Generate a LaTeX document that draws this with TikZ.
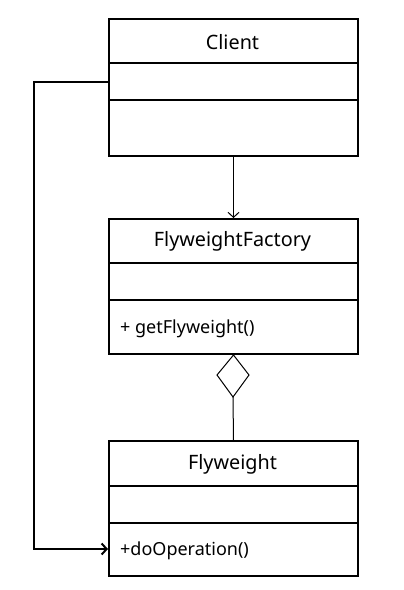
\documentclass[tikz,border=0pt]{standalone}
\usepackage{fontspec}
\setmainfont{Noto Sans}
\usetikzlibrary{arrows.meta}
\begin{document}
\begin{tikzpicture}[x=1pt,y=-1pt,
  cls/.style={draw, line width=2pt, minimum width=249pt, inner sep=0pt, anchor=north west},
  title/.style={font=\fontsize{19.8}{23}\selectfont, inner sep=0pt},
  member/.style={font=\fontsize{18}{21}\selectfont, inner sep=0pt, anchor=west},
  divider/.style={line width=2pt},
  conn/.style={line width=1pt},
  barb/.style={-{Straight Barb[length=5pt,width=11pt]}}
]
\useasboundingbox[fill=white] (0,0) rectangle (404,590);
% Client
\node[cls, minimum height=137pt] (client) at (108,18) {};
\node[title] (clientname) at (232.5,42) {Client};
\draw[divider] (108,63) -- (357,63);
\draw[divider] (108,100) -- (357,100);
% FlyweightFactory
\node[cls, minimum height=135pt] (factory) at (108,218) {};
\node[title] (factoryname) at (232.5,241.5) {FlyweightFactory};
\draw[divider] (108,263) -- (357,263);
\draw[divider] (108,300) -- (357,300);
\node[member] (getfw) at (120,328.5) {+ getFlyweight()};
% Flyweight
\node[cls, minimum height=135pt] (fly) at (108,440) {};
\node[title] (flyname) at (232.5,464) {Flyweight};
\draw[divider] (108,486) -- (357,486);
\draw[divider] (108,523) -- (357,523);
\node[member] (doop) at (120,550.5) {+doOperation()};
% connectors
\draw[conn, barb] (client.south) -- (factory.north);
\coordinate (dtop) at (factory.south);
\coordinate (dbot) at (233,397);
\draw[conn] (dtop) -- (249,375) -- (dbot) -- (217,375) -- cycle;
\draw[conn] (dbot) -- (fly.north);
\coordinate (cleft) at (108,82);
\coordinate (fleft) at (108,549);
\draw[line width=2pt, barb] (cleft) -- (34,82) |- (fleft);
\end{tikzpicture}
\end{document}
